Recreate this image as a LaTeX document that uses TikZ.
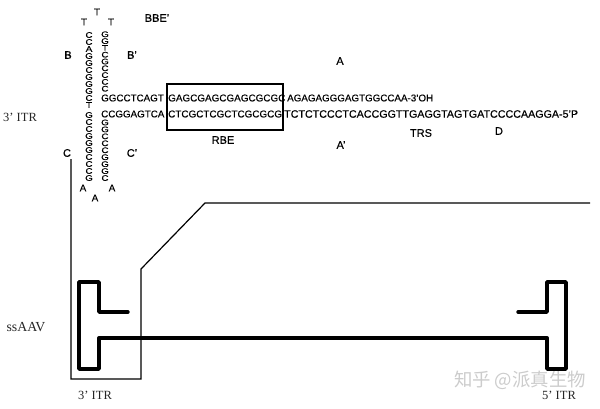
\documentclass[tikz,border=0pt]{standalone}
\usepackage{fontspec}
\setmainfont{Liberation Serif}
\setsansfont{Liberation Sans}[FakeBold=0.35]
\newfontfamily\cjkfont{Noto Sans CJK SC}
\usetikzlibrary{fit}
\newcommand{\squash}[1]{\scalebox{1}[0.82]{#1}}
\tikzset{
    base/.style={font=\sffamily\fontsize{9.8}{10}\selectfont, inner sep=0, text=black},
    seq/.style={style=base, anchor=west},
    region/.style={style=base, font=\sffamily\fontsize{11}{11}\selectfont},
    serif/.style={font=\rmfamily\fontsize{12.5}{13}\selectfont, inner sep=0, text=black!85},
    outline/.style={draw, line width=1.2pt},
    genome/.style={draw, line width=3.4pt, line join=round, line cap=round},
    wmark/.style={font=\cjkfont\fontsize{18.4}{19}\selectfont, inner sep=0, text=black!20}
}
\tikzstyle{box}=[draw, line width=1.1pt, inner sep=0]
\begin{document}
\begin{tikzpicture}[x=1pt, y=-1pt]
        \useasboundingbox (0, 0) rectangle (600, 408);

        % stem of the hairpin
        \foreach \letter [count=\i] in {C, C, A, G, G, C, G, G, G, C, T}
            \node[base] (up_left_\i) at (89, {28 + \i * 7}) {\squash{\letter}};
        \foreach \letter [count=\i] in {G, G, T, C, G, C, C, C, C}
            \node[base] (up_right_\i) at (105, {27.5 + \i * 6.8}) {\squash{\letter}};
        \foreach \letter [count=\i] in {G, C, C, G, G, G, C, C, C, G}
            \node[base] (low_left_\i) at (89, {108 + \i * 7}) {\squash{\letter}};
        \foreach \letter [count=\i] in {G, G, C, C, C, G, G, G, C}
            \node[base] (low_right_\i) at (105, {115.5 + \i * 6.95}) {\squash{\letter}};

        % loops
        \node[base] (t_top) at (97, 12) {T};
        \node[base] (t_left) at (84, 22) {T};
        \node[base] (t_right) at (111, 22) {T};
        \node[base] (a_left) at (83, 188) {A};
        \node[base] (a_bottom) at (95, 198) {A};
        \node[base] (a_right) at (112, 188) {A};

        % strands
        \node[seq] (top_stem) at (101, 98) {GGCCTCAGT};
        \node[seq, font=\sffamily\fontsize{9.9}{10}\selectfont] (top_rbe) at (168, 98) {GAGCGAGCGAGCGCGC};
        \node[seq] (top_tail) at (287, 98) {AGAGAGGGAGTGGCCAA-3'OH};
        \node[seq] (low_stem) at (101, 114) {CCGGAGTCA};
        \node[seq, font=\sffamily\fontsize{9.9}{10}\selectfont] (low_rbe) at (168, 114) {CTCGCTCGCTCGCGCG};
        \node[seq, font=\sffamily\fontsize{10.7}{11}\selectfont] (low_tail) at (284, 114) {TCTCTCCCTCACCGGTTGAGGTAGTGATCCCCAAGGA-5'P};

        \coordinate (rbe_nw) at (167, 84);
        \coordinate (rbe_se) at (283, 130);
        \node[box, fit=(rbe_nw) (rbe_se)] (rbe_box) {};

        % labels
        \node[region] (bbe) at (157, 18) {BBE'};
        \node[region] (b) at (68, 55) {B};
        \node[region] (b_prime) at (132, 55) {B'};
        \node[region] (a) at (340, 61) {A};
        \node[region] (a_prime) at (341, 145) {A'};
        \node[region] (c) at (67, 153) {C};
        \node[region] (c_prime) at (132, 153) {C'};
        \node[region] (rbe) at (223, 140) {RBE};
        \node[region] (trs) at (421, 133) {TRS};
        \node[region] (d) at (499, 131) {D};
        \node[serif] (itr_top) at (20, 117) {3' ITR};
        \node[serif, font=\rmfamily\fontsize{13.8}{14}\selectfont] (ssaav) at (26, 327) {ssAAV};
        \node[serif] (itr_left) at (95, 395) {3' ITR};
        \node[serif] (itr_right) at (559, 395) {5' ITR};
        \node[wmark] (watermark) at (520, 380) {知乎 @派真生物};

        % outline of the left end
        \coordinate (out_start) at (71, 159);
        \coordinate (out_bl) at (71, 379);
        \coordinate (out_br) at (141, 379);
        \coordinate (out_bend) at (141, 269);
        \coordinate (out_top) at (205, 203);
        \coordinate (out_end) at (590, 203);
        \draw[outline] (out_start) -- (out_bl) -- (out_br) -- (out_bend) -- (out_top) -- (out_end);

        % genome
        \coordinate (l1) at (128, 312);
        \coordinate (l2) at (99, 312);
        \coordinate (l3) at (99, 282);
        \coordinate (l4) at (79, 282);
        \coordinate (l5) at (79, 369);
        \coordinate (l6) at (99, 369);
        \coordinate (l7) at (99, 338);
        \coordinate (r1) at (518, 312);
        \coordinate (r2) at (547, 312);
        \coordinate (r3) at (547, 282);
        \coordinate (r4) at (566, 282);
        \coordinate (r5) at (566, 369);
        \coordinate (r6) at (547, 369);
        \coordinate (r7) at (547, 338);
        \draw[genome] (l1) -- (l2) -- (l3) -- (l4) -- (l5) -- (l6) -- (l7) -- (r7) -- (r6) -- (r5) -- (r4) -- (r3) -- (r2) -- (r1);
      \end{tikzpicture}
\end{document}
